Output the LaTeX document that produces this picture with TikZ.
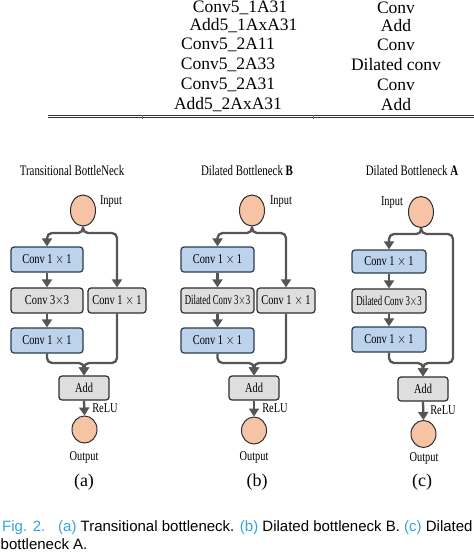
\documentclass[tikz,border=0pt]{standalone}
\usepackage{fontspec}
\setmainfont{Liberation Serif}
\newfontfamily\capfont{Liberation Sans}
\usetikzlibrary{arrows.meta,shapes.geometric}
\definecolor{bluefill}{RGB}{189,210,235}
\definecolor{blueedge}{RGB}{40,58,78}
\definecolor{grayfill}{RGB}{222,222,222}
\definecolor{peach}{RGB}{246,196,165}
\definecolor{linegray}{RGB}{85,85,85}
\definecolor{edge}{RGB}{45,45,45}
\definecolor{capblue}{RGB}{50,165,222}
\newcommand{\nx}[2][0.77]{\scalebox{#1}[1]{#2}}
\begin{document}
\begin{tikzpicture}[x=1pt,y=-1pt,
  box/.style={draw=edge, line width=1.2pt, rounded corners=3pt, minimum height=25pt, inner sep=0pt, font=\fontsize{13.5}{13.5}\selectfont},
  bbox/.style={box, fill=bluefill, draw=blueedge},
  gbox/.style={box, fill=grayfill},
  io/.style={ellipse, draw=edge, fill=peach, line width=1pt, minimum width=25pt, minimum height=31pt, inner sep=0pt},
  conn/.style={draw=linegray, line width=2.3pt, rounded corners=5pt},
  arr/.style={conn, -{Triangle[length=8pt,width=10pt]}},
  lbl/.style={font=\fontsize{13.5}{13.5}\selectfont, inner sep=0pt},
  ttl/.style={font=\fontsize{14.5}{14.5}\selectfont, inner sep=0pt},
  tab/.style={font=\fontsize{17.5}{17.5}\selectfont, inner sep=0pt},
  sub/.style={font=\fontsize{18}{18}\selectfont, inner sep=0pt},
  captxt/.style={font=\capfont\fontsize{15}{15}\selectfont, inner sep=0pt, anchor=west}]
\useasboundingbox (0,0) rectangle (474,552);
\clip (0,0) rectangle (474,552);

% ---- table ----
\node[tab] (t1l) at (240,7.5) {Conv5\_1A31};
\node[tab] (t1r) at (396,7.5) {Conv};
\node[tab] (t2l) at (243.5,26) {Add5\_1AxA31};
\node[tab] (t2r) at (396,26) {Add};
\node[tab] (t3l) at (228,45) {Conv5\_2A11};
\node[tab] (t3r) at (396,45) {Conv};
\node[tab] (t4l) at (228,65) {Conv5\_2A33};
\node[tab] (t4r) at (396,65) {Dilated conv};
\node[tab] (t5l) at (228,85) {Conv5\_2A31};
\node[tab] (t5r) at (396,85) {Conv};
\node[tab] (t6l) at (228,105) {Add5\_2AxA31};
\node[tab] (t6r) at (396,105) {Add};
\draw[line width=0.9pt, draw=black!80] (48,115) -- (474,115);
\draw[line width=0.9pt, draw=black!80] (48,117.5) -- (474,117.5);
\draw[line width=0.5pt, draw=black!60] (142,115) -- (142,119) (313,115) -- (313,119);

% ---- titles ----
\node[ttl] (ta) at (72,171) {\nx[0.75]{Transitional BottleNeck}};
\node[ttl] (tb) at (247,171) {\nx[0.75]{Dilated Bottleneck \textbf{B}}};
\node[ttl] (tc) at (412,171) {\nx[0.75]{Dilated Bottleneck \textbf{A}}};

% ---- (a) ----
\node[io] (inA) at (83,210.5) {};
\node[lbl] (inAl) at (111,202) {\nx{Input}};
\node[bbox, minimum width=72pt] (c1A) at (47,259.5) {\nx{Conv 1 $\times$ 1}};
\node[gbox, minimum width=72pt] (c2A) at (47,300.5) {\nx{Conv 3$\times$3}};
\node[gbox, minimum width=58pt] (rA) at (117,300.5) {\nx{Conv 1 $\times$ 1}};
\node[bbox, minimum width=72pt] (c3A) at (47,340.5) {\nx{Conv 1 $\times$ 1}};
\node[gbox, minimum width=50pt, minimum height=24pt] (addA) at (84,388) {\nx{Add}};
\node[io, minimum height=27pt] (outA) at (84.5,429.5) {};
\node[lbl] (reluA) at (105,408) {\nx{ReLU}};
\node[lbl] (outAl) at (84,457) {\nx{Output}};
\node[sub] (sa) at (84,482) {(a)};
\coordinate (jA) at (83,233);
\coordinate (mA) at (84,363);
\draw[arr] (inA.south) -- (jA) -- (c1A.north |- jA) -- (c1A.north);
\draw[arr] (inA.south) -- (jA) -- (rA.north |- jA) -- (rA.north);
\draw[arr] (c1A.south) -- (c2A.north);
\draw[arr] (c2A.south) -- (c3A.north);
\draw[arr] (c3A.south) -- (c3A.south |- mA) -- (mA) -- (addA.north);
\draw[arr] (rA.south) -- (rA.south |- mA) -- (mA) -- (addA.north);
\draw[arr] (addA.south) -- (outA.north);

% ---- (b) ----
\node[io] (inB) at (252,210.5) {};
\node[lbl] (inBl) at (281,202) {\nx{Input}};
\node[bbox, minimum width=73pt] (c1B) at (217.5,259.5) {\nx{Conv 1 $\times$ 1}};
\node[gbox, minimum width=73pt] (c2B) at (217.5,300.5) {\nx[0.65]{Dilated Conv 3$\times$3}};
\node[gbox, minimum width=58pt] (rB) at (286,300.5) {\nx{Conv 1 $\times$ 1}};
\node[bbox, minimum width=73pt] (c3B) at (217.5,340.5) {\nx{Conv 1 $\times$ 1}};
\node[gbox, minimum width=50pt, minimum height=24pt] (addB) at (254,388) {\nx{Add}};
\node[io, minimum height=27pt] (outB) at (254,430.5) {};
\node[lbl] (reluB) at (275,408) {\nx{ReLU}};
\node[lbl] (outBl) at (254,457) {\nx{Output}};
\node[sub] (sb) at (257,482) {(b)};
\coordinate (jB) at (252,233);
\coordinate (mB) at (254,363);
\draw[arr] (inB.south) -- (jB) -- (c1B.north |- jB) -- (c1B.north);
\draw[arr] (inB.south) -- (jB) -- (rB.north |- jB) -- (rB.north);
\draw[arr] (c1B.south) -- (c2B.north);
\draw[arr] (c2B.south) -- (c3B.north);
\draw[arr] (c3B.south) -- (c3B.south |- mB) -- (mB) -- (addB.north);
\draw[arr] (rB.south) -- (rB.south |- mB) -- (mB) -- (addB.north);
\draw[arr] (addB.south) -- (outB.north);

% ---- (c) ----
\node[io] (inC) at (421,212) {};
\node[lbl] (inCl) at (392,203) {\nx{Input}};
\node[bbox, minimum width=74pt, minimum height=23pt] (c1C) at (389,261.5) {\nx{Conv 1 $\times$ 1}};
\node[gbox, minimum width=74pt, minimum height=24pt] (c2C) at (389,301) {\nx[0.65]{Dilated Conv 3$\times$3}};
\node[bbox, minimum width=74pt] (c3C) at (389,339.5) {\nx{Conv 1 $\times$ 1}};
\node[gbox, minimum width=50pt, minimum height=24pt] (addC) at (423,389) {\nx{Add}};
\node[io, minimum height=27pt] (outC) at (423.5,434) {};
\node[lbl] (reluC) at (443,410) {\nx{ReLU}};
\node[lbl] (outCl) at (424,458) {\nx{Output}};
\node[sub] (sc) at (422,482) {(c)};
\coordinate (jC) at (421.5,234);
\coordinate (rCt) at (453,234);
\coordinate (mC) at (423,363);
\draw[arr] (inC.south) -- (jC) -- (c1C.north |- jC) -- (c1C.north);
\draw[arr] (c1C.south) -- (c2C.north);
\draw[arr] (c2C.south) -- (c3C.north);
\draw[arr] (c3C.south) -- (c3C.south |- mC) -- (mC) -- (addC.north);
\draw[arr] (inC.south) -- (jC) -- (rCt) -- (rCt |- mC) -- (mC) -- (addC.north);
\draw[arr] (addC.south) -- (outC.north);

% ---- caption ----
\node[captxt, text=capblue] (fig) at (2,528) {Fig. 2.};
\node[captxt] (cap1) at (58,528) {\textcolor{capblue}{(a)} Transitional bottleneck. \textcolor{capblue}{(b)} Dilated bottleneck B. \textcolor{capblue}{(c)} Dilated};
\node[captxt] (cap2) at (0.5,544.5) {bottleneck A.};
\end{tikzpicture}
\end{document}
